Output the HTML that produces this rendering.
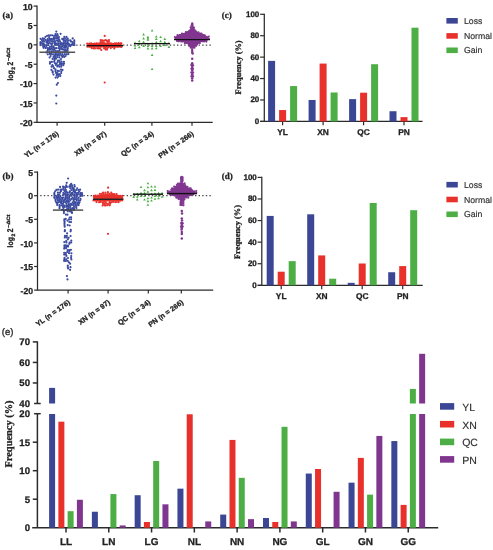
<!DOCTYPE html>
<html><head><meta charset="utf-8"><style>
html,body{margin:0;padding:0;background:#fff;}
body{width:493px;height:550px;overflow:hidden;}
svg{display:block;will-change:transform;text-rendering:geometricPrecision;}
</style></head><body>
<svg width="493" height="550" viewBox="0 0 493 550">
<rect width="493" height="550" fill="#fff"/>
<text x="2.40" y="17.60" font-family="Liberation Serif" font-size="9.0" font-weight="bold" text-anchor="start" fill="#222" stroke="#222" stroke-width="0.28" >(a)</text>
<line x1="37.00" y1="5.50" x2="37.00" y2="122.32" stroke="#2b2b2b" stroke-width="1.25" />
<line x1="36.40" y1="122.32" x2="212.70" y2="122.32" stroke="#2b2b2b" stroke-width="1.25" />
<line x1="33.60" y1="6.10" x2="37.00" y2="6.10" stroke="#2b2b2b" stroke-width="1.2" />
<text x="32.60" y="9.83" font-family="Liberation Sans" font-size="8.7" font-weight="bold" text-anchor="end" fill="#222" stroke="#222" stroke-width="0.28" >10</text>
<line x1="33.60" y1="25.47" x2="37.00" y2="25.47" stroke="#2b2b2b" stroke-width="1.2" />
<text x="32.60" y="29.20" font-family="Liberation Sans" font-size="8.7" font-weight="bold" text-anchor="end" fill="#222" stroke="#222" stroke-width="0.28" >5</text>
<line x1="33.60" y1="44.84" x2="37.00" y2="44.84" stroke="#2b2b2b" stroke-width="1.2" />
<text x="32.60" y="48.57" font-family="Liberation Sans" font-size="8.7" font-weight="bold" text-anchor="end" fill="#222" stroke="#222" stroke-width="0.28" >0</text>
<line x1="33.60" y1="64.21" x2="37.00" y2="64.21" stroke="#2b2b2b" stroke-width="1.2" />
<text x="32.60" y="67.94" font-family="Liberation Sans" font-size="8.7" font-weight="bold" text-anchor="end" fill="#222" stroke="#222" stroke-width="0.28" >-5</text>
<line x1="33.60" y1="83.58" x2="37.00" y2="83.58" stroke="#2b2b2b" stroke-width="1.2" />
<text x="32.60" y="87.31" font-family="Liberation Sans" font-size="8.7" font-weight="bold" text-anchor="end" fill="#222" stroke="#222" stroke-width="0.28" >-10</text>
<line x1="33.60" y1="102.95" x2="37.00" y2="102.95" stroke="#2b2b2b" stroke-width="1.2" />
<text x="32.60" y="106.68" font-family="Liberation Sans" font-size="8.7" font-weight="bold" text-anchor="end" fill="#222" stroke="#222" stroke-width="0.28" >-15</text>
<line x1="33.60" y1="122.32" x2="37.00" y2="122.32" stroke="#2b2b2b" stroke-width="1.2" />
<text x="32.60" y="126.05" font-family="Liberation Sans" font-size="8.7" font-weight="bold" text-anchor="end" fill="#222" stroke="#222" stroke-width="0.28" >-20</text>
<line x1="57.10" y1="122.32" x2="57.10" y2="125.72" stroke="#2b2b2b" stroke-width="1.2" />
<text x="59.30" y="134.92" font-family="Liberation Sans" font-size="7.15" font-weight="bold" text-anchor="end" fill="#222" stroke="#222" stroke-width="0.28" transform="rotate(-35 59.30 134.92)">YL (n = 176)</text>
<line x1="104.70" y1="122.32" x2="104.70" y2="125.72" stroke="#2b2b2b" stroke-width="1.2" />
<text x="106.90" y="134.92" font-family="Liberation Sans" font-size="7.15" font-weight="bold" text-anchor="end" fill="#222" stroke="#222" stroke-width="0.28" transform="rotate(-35 106.90 134.92)">XN (n = 97)</text>
<line x1="151.90" y1="122.32" x2="151.90" y2="125.72" stroke="#2b2b2b" stroke-width="1.2" />
<text x="154.10" y="134.92" font-family="Liberation Sans" font-size="7.15" font-weight="bold" text-anchor="end" fill="#222" stroke="#222" stroke-width="0.28" transform="rotate(-35 154.10 134.92)">QC (n = 34)</text>
<line x1="192.00" y1="122.32" x2="192.00" y2="125.72" stroke="#2b2b2b" stroke-width="1.2" />
<text x="194.20" y="134.92" font-family="Liberation Sans" font-size="7.15" font-weight="bold" text-anchor="end" fill="#222" stroke="#222" stroke-width="0.28" transform="rotate(-35 194.20 134.92)">PN (n = 266)</text>
<text transform="translate(12.80,80.60) rotate(-90) scale(0.86,1)" font-family="Liberation Sans" font-weight="bold" font-size="8.0" fill="#222" stroke="#222" stroke-width="0.32" text-anchor="start">log</text>
<text transform="translate(14.80,69.70) rotate(-90) scale(1.0,1)" font-family="Liberation Sans" font-weight="bold" font-size="5.0" fill="#222" stroke="#222" stroke-width="0.32" text-anchor="start">2</text>
<text transform="translate(12.60,65.40) rotate(-90) scale(0.78,1)" font-family="Liberation Sans" font-weight="bold" font-size="8.4" fill="#222" stroke="#222" stroke-width="0.32" text-anchor="start">2</text>
<text transform="translate(9.90,61.00) rotate(-90) scale(1.17,1)" font-family="Liberation Sans" font-weight="bold" font-size="4.8" fill="#222" stroke="#222" stroke-width="0.32" text-anchor="start">&#8722;&#916;Ct</text>
<line x1="40.2" y1="45.2" x2="212" y2="45.2" stroke="#4a4a4a" stroke-width="1.25" stroke-dasharray="1.4 2.2"/>
<text x="2.40" y="178.90" font-family="Liberation Serif" font-size="9.0" font-weight="bold" text-anchor="start" fill="#222" stroke="#222" stroke-width="0.28" >(b)</text>
<line x1="37.50" y1="171.50" x2="37.50" y2="290.10" stroke="#2b2b2b" stroke-width="1.25" />
<line x1="36.90" y1="290.10" x2="213.20" y2="290.10" stroke="#2b2b2b" stroke-width="1.25" />
<line x1="34.10" y1="172.10" x2="37.50" y2="172.10" stroke="#2b2b2b" stroke-width="1.2" />
<text x="33.10" y="175.83" font-family="Liberation Sans" font-size="8.7" font-weight="bold" text-anchor="end" fill="#222" stroke="#222" stroke-width="0.28" >5</text>
<line x1="34.10" y1="195.70" x2="37.50" y2="195.70" stroke="#2b2b2b" stroke-width="1.2" />
<text x="33.10" y="199.43" font-family="Liberation Sans" font-size="8.7" font-weight="bold" text-anchor="end" fill="#222" stroke="#222" stroke-width="0.28" >0</text>
<line x1="34.10" y1="219.30" x2="37.50" y2="219.30" stroke="#2b2b2b" stroke-width="1.2" />
<text x="33.10" y="223.03" font-family="Liberation Sans" font-size="8.7" font-weight="bold" text-anchor="end" fill="#222" stroke="#222" stroke-width="0.28" >-5</text>
<line x1="34.10" y1="242.90" x2="37.50" y2="242.90" stroke="#2b2b2b" stroke-width="1.2" />
<text x="33.10" y="246.63" font-family="Liberation Sans" font-size="8.7" font-weight="bold" text-anchor="end" fill="#222" stroke="#222" stroke-width="0.28" >-10</text>
<line x1="34.10" y1="266.50" x2="37.50" y2="266.50" stroke="#2b2b2b" stroke-width="1.2" />
<text x="33.10" y="270.23" font-family="Liberation Sans" font-size="8.7" font-weight="bold" text-anchor="end" fill="#222" stroke="#222" stroke-width="0.28" >-15</text>
<line x1="34.10" y1="290.10" x2="37.50" y2="290.10" stroke="#2b2b2b" stroke-width="1.2" />
<text x="33.10" y="293.83" font-family="Liberation Sans" font-size="8.7" font-weight="bold" text-anchor="end" fill="#222" stroke="#222" stroke-width="0.28" >-20</text>
<line x1="68.10" y1="290.10" x2="68.10" y2="293.50" stroke="#2b2b2b" stroke-width="1.2" />
<text x="70.70" y="303.40" font-family="Liberation Sans" font-size="7.15" font-weight="bold" text-anchor="end" fill="#222" stroke="#222" stroke-width="0.28" transform="rotate(-35.5 70.70 303.40)">YL (n = 176)</text>
<line x1="108.10" y1="290.10" x2="108.10" y2="293.50" stroke="#2b2b2b" stroke-width="1.2" />
<text x="110.70" y="303.40" font-family="Liberation Sans" font-size="7.15" font-weight="bold" text-anchor="end" fill="#222" stroke="#222" stroke-width="0.28" transform="rotate(-35.5 110.70 303.40)">XN (n = 97)</text>
<line x1="148.30" y1="290.10" x2="148.30" y2="293.50" stroke="#2b2b2b" stroke-width="1.2" />
<text x="150.90" y="303.40" font-family="Liberation Sans" font-size="7.15" font-weight="bold" text-anchor="end" fill="#222" stroke="#222" stroke-width="0.28" transform="rotate(-35.5 150.90 303.40)">QC (n = 34)</text>
<line x1="181.30" y1="290.10" x2="181.30" y2="293.50" stroke="#2b2b2b" stroke-width="1.2" />
<text x="183.90" y="303.40" font-family="Liberation Sans" font-size="7.15" font-weight="bold" text-anchor="end" fill="#222" stroke="#222" stroke-width="0.28" transform="rotate(-35.5 183.90 303.40)">PN (n = 266)</text>
<text transform="translate(12.80,247.40) rotate(-90) scale(0.86,1)" font-family="Liberation Sans" font-weight="bold" font-size="8.0" fill="#222" stroke="#222" stroke-width="0.32" text-anchor="start">log</text>
<text transform="translate(14.80,236.50) rotate(-90) scale(1.0,1)" font-family="Liberation Sans" font-weight="bold" font-size="5.0" fill="#222" stroke="#222" stroke-width="0.32" text-anchor="start">2</text>
<text transform="translate(12.60,232.20) rotate(-90) scale(0.78,1)" font-family="Liberation Sans" font-weight="bold" font-size="8.4" fill="#222" stroke="#222" stroke-width="0.32" text-anchor="start">2</text>
<text transform="translate(9.90,227.80) rotate(-90) scale(1.17,1)" font-family="Liberation Sans" font-weight="bold" font-size="4.8" fill="#222" stroke="#222" stroke-width="0.32" text-anchor="start">&#8722;&#916;Ct</text>
<line x1="40.2" y1="195.6" x2="212" y2="195.6" stroke="#4a4a4a" stroke-width="1.25" stroke-dasharray="1.4 2.2"/>
<text x="221.80" y="17.70" font-family="Liberation Serif" font-size="9.0" font-weight="bold" text-anchor="start" fill="#222" stroke="#222" stroke-width="0.28" >(c)</text>
<line x1="264.30" y1="13.70" x2="264.30" y2="121.40" stroke="#2b2b2b" stroke-width="1.25" />
<line x1="260.10" y1="121.40" x2="422.60" y2="121.40" stroke="#2b2b2b" stroke-width="1.25" />
<line x1="260.10" y1="121.40" x2="264.30" y2="121.40" stroke="#2b2b2b" stroke-width="1.2" />
<text x="259.30" y="123.78" font-family="Liberation Sans" font-size="8.0" font-weight="bold" text-anchor="end" fill="#222" stroke="#222" stroke-width="0.28" >0</text>
<line x1="260.10" y1="99.98" x2="264.30" y2="99.98" stroke="#2b2b2b" stroke-width="1.2" />
<text x="259.30" y="102.36" font-family="Liberation Sans" font-size="8.0" font-weight="bold" text-anchor="end" fill="#222" stroke="#222" stroke-width="0.28" >20</text>
<line x1="260.10" y1="78.56" x2="264.30" y2="78.56" stroke="#2b2b2b" stroke-width="1.2" />
<text x="259.30" y="80.94" font-family="Liberation Sans" font-size="8.0" font-weight="bold" text-anchor="end" fill="#222" stroke="#222" stroke-width="0.28" >40</text>
<line x1="260.10" y1="57.14" x2="264.30" y2="57.14" stroke="#2b2b2b" stroke-width="1.2" />
<text x="259.30" y="59.52" font-family="Liberation Sans" font-size="8.0" font-weight="bold" text-anchor="end" fill="#222" stroke="#222" stroke-width="0.28" >60</text>
<line x1="260.10" y1="35.72" x2="264.30" y2="35.72" stroke="#2b2b2b" stroke-width="1.2" />
<text x="259.30" y="38.10" font-family="Liberation Sans" font-size="8.0" font-weight="bold" text-anchor="end" fill="#222" stroke="#222" stroke-width="0.28" >80</text>
<line x1="260.10" y1="14.30" x2="264.30" y2="14.30" stroke="#2b2b2b" stroke-width="1.2" />
<text x="259.30" y="16.68" font-family="Liberation Sans" font-size="8.0" font-weight="bold" text-anchor="end" fill="#222" stroke="#222" stroke-width="0.28" >100</text>
<line x1="282.60" y1="121.40" x2="282.60" y2="125.30" stroke="#2b2b2b" stroke-width="1.2" />
<text x="282.60" y="134.60" font-family="Liberation Sans" font-size="8.4" font-weight="bold" text-anchor="middle" fill="#222" stroke="#222" stroke-width="0.28" >YL</text>
<rect x="268.10" y="60.89" width="7.00" height="60.51" fill="#3b4794"/>
<rect x="279.10" y="110.05" width="7.00" height="11.35" fill="#e8312b"/>
<rect x="290.10" y="86.06" width="7.00" height="35.34" fill="#4cae45"/>
<line x1="323.10" y1="121.40" x2="323.10" y2="125.30" stroke="#2b2b2b" stroke-width="1.2" />
<text x="323.10" y="134.60" font-family="Liberation Sans" font-size="8.4" font-weight="bold" text-anchor="middle" fill="#222" stroke="#222" stroke-width="0.28" >XN</text>
<rect x="308.60" y="99.98" width="7.00" height="21.42" fill="#3b4794"/>
<rect x="319.60" y="63.57" width="7.00" height="57.83" fill="#e8312b"/>
<rect x="330.60" y="92.48" width="7.00" height="28.92" fill="#4cae45"/>
<line x1="363.60" y1="121.40" x2="363.60" y2="125.30" stroke="#2b2b2b" stroke-width="1.2" />
<text x="363.60" y="134.60" font-family="Liberation Sans" font-size="8.4" font-weight="bold" text-anchor="middle" fill="#222" stroke="#222" stroke-width="0.28" >QC</text>
<rect x="349.10" y="99.12" width="7.00" height="22.28" fill="#3b4794"/>
<rect x="360.10" y="92.70" width="7.00" height="28.70" fill="#e8312b"/>
<rect x="371.10" y="64.21" width="7.00" height="57.19" fill="#4cae45"/>
<line x1="404.00" y1="121.40" x2="404.00" y2="125.30" stroke="#2b2b2b" stroke-width="1.2" />
<text x="404.00" y="134.60" font-family="Liberation Sans" font-size="8.4" font-weight="bold" text-anchor="middle" fill="#222" stroke="#222" stroke-width="0.28" >PN</text>
<rect x="389.50" y="111.23" width="7.00" height="10.17" fill="#3b4794"/>
<rect x="400.50" y="117.12" width="7.00" height="4.28" fill="#e8312b"/>
<rect x="411.50" y="27.69" width="7.00" height="93.71" fill="#4cae45"/>
<rect x="446.40" y="18.00" width="11.40" height="5.60" fill="#3b4794"/>
<text x="464.00" y="23.93" font-family="Liberation Sans" font-size="8.7" font-weight="normal" text-anchor="start" fill="#2e2e2e" stroke="#2e2e2e" stroke-width="0.15" >Loss</text>
<rect x="446.40" y="33.10" width="11.40" height="5.60" fill="#e8312b"/>
<text x="464.00" y="39.03" font-family="Liberation Sans" font-size="8.7" font-weight="normal" text-anchor="start" fill="#2e2e2e" stroke="#2e2e2e" stroke-width="0.15" >Normal</text>
<rect x="446.40" y="47.50" width="11.40" height="5.60" fill="#4cae45"/>
<text x="464.00" y="53.43" font-family="Liberation Sans" font-size="8.7" font-weight="normal" text-anchor="start" fill="#2e2e2e" stroke="#2e2e2e" stroke-width="0.15" >Gain</text>
<text transform="translate(241.20,67.40) rotate(-90)" font-family="Liberation Serif" font-weight="bold" font-size="8.4" fill="#222" stroke="#222" stroke-width="0.3" text-anchor="middle">Frequency (%)</text>
<text x="221.80" y="179.30" font-family="Liberation Serif" font-size="9.0" font-weight="bold" text-anchor="start" fill="#222" stroke="#222" stroke-width="0.28" >(d)</text>
<line x1="261.80" y1="176.80" x2="261.80" y2="285.30" stroke="#2b2b2b" stroke-width="1.25" />
<line x1="257.60" y1="285.30" x2="422.70" y2="285.30" stroke="#2b2b2b" stroke-width="1.25" />
<line x1="257.60" y1="285.30" x2="261.80" y2="285.30" stroke="#2b2b2b" stroke-width="1.2" />
<text x="256.80" y="287.68" font-family="Liberation Sans" font-size="8.0" font-weight="bold" text-anchor="end" fill="#222" stroke="#222" stroke-width="0.28" >0</text>
<line x1="257.60" y1="263.72" x2="261.80" y2="263.72" stroke="#2b2b2b" stroke-width="1.2" />
<text x="256.80" y="266.10" font-family="Liberation Sans" font-size="8.0" font-weight="bold" text-anchor="end" fill="#222" stroke="#222" stroke-width="0.28" >20</text>
<line x1="257.60" y1="242.14" x2="261.80" y2="242.14" stroke="#2b2b2b" stroke-width="1.2" />
<text x="256.80" y="244.52" font-family="Liberation Sans" font-size="8.0" font-weight="bold" text-anchor="end" fill="#222" stroke="#222" stroke-width="0.28" >40</text>
<line x1="257.60" y1="220.56" x2="261.80" y2="220.56" stroke="#2b2b2b" stroke-width="1.2" />
<text x="256.80" y="222.94" font-family="Liberation Sans" font-size="8.0" font-weight="bold" text-anchor="end" fill="#222" stroke="#222" stroke-width="0.28" >60</text>
<line x1="257.60" y1="198.98" x2="261.80" y2="198.98" stroke="#2b2b2b" stroke-width="1.2" />
<text x="256.80" y="201.36" font-family="Liberation Sans" font-size="8.0" font-weight="bold" text-anchor="end" fill="#222" stroke="#222" stroke-width="0.28" >80</text>
<line x1="257.60" y1="177.40" x2="261.80" y2="177.40" stroke="#2b2b2b" stroke-width="1.2" />
<text x="256.80" y="179.78" font-family="Liberation Sans" font-size="8.0" font-weight="bold" text-anchor="end" fill="#222" stroke="#222" stroke-width="0.28" >100</text>
<line x1="281.20" y1="285.30" x2="281.20" y2="289.20" stroke="#2b2b2b" stroke-width="1.2" />
<text x="281.20" y="298.50" font-family="Liberation Sans" font-size="8.4" font-weight="bold" text-anchor="middle" fill="#222" stroke="#222" stroke-width="0.28" >YL</text>
<rect x="266.70" y="215.92" width="7.00" height="69.38" fill="#3b4794"/>
<rect x="277.70" y="271.70" width="7.00" height="13.60" fill="#e8312b"/>
<rect x="288.70" y="261.13" width="7.00" height="24.17" fill="#4cae45"/>
<line x1="321.70" y1="285.30" x2="321.70" y2="289.20" stroke="#2b2b2b" stroke-width="1.2" />
<text x="321.70" y="298.50" font-family="Liberation Sans" font-size="8.4" font-weight="bold" text-anchor="middle" fill="#222" stroke="#222" stroke-width="0.28" >XN</text>
<rect x="307.20" y="214.30" width="7.00" height="71.00" fill="#3b4794"/>
<rect x="318.20" y="255.41" width="7.00" height="29.89" fill="#e8312b"/>
<rect x="329.20" y="278.72" width="7.00" height="6.58" fill="#4cae45"/>
<line x1="362.20" y1="285.30" x2="362.20" y2="289.20" stroke="#2b2b2b" stroke-width="1.2" />
<text x="362.20" y="298.50" font-family="Liberation Sans" font-size="8.4" font-weight="bold" text-anchor="middle" fill="#222" stroke="#222" stroke-width="0.28" >QC</text>
<rect x="347.70" y="282.82" width="7.00" height="2.48" fill="#3b4794"/>
<rect x="358.70" y="263.50" width="7.00" height="21.80" fill="#e8312b"/>
<rect x="369.70" y="202.97" width="7.00" height="82.33" fill="#4cae45"/>
<line x1="402.70" y1="285.30" x2="402.70" y2="289.20" stroke="#2b2b2b" stroke-width="1.2" />
<text x="402.70" y="298.50" font-family="Liberation Sans" font-size="8.4" font-weight="bold" text-anchor="middle" fill="#222" stroke="#222" stroke-width="0.28" >PN</text>
<rect x="388.20" y="272.24" width="7.00" height="13.06" fill="#3b4794"/>
<rect x="399.20" y="266.09" width="7.00" height="19.21" fill="#e8312b"/>
<rect x="410.20" y="210.20" width="7.00" height="75.10" fill="#4cae45"/>
<rect x="446.40" y="181.90" width="11.40" height="5.60" fill="#3b4794"/>
<text x="464.00" y="187.83" font-family="Liberation Sans" font-size="8.7" font-weight="normal" text-anchor="start" fill="#2e2e2e" stroke="#2e2e2e" stroke-width="0.15" >Loss</text>
<rect x="446.40" y="196.70" width="11.40" height="5.60" fill="#e8312b"/>
<text x="464.00" y="202.63" font-family="Liberation Sans" font-size="8.7" font-weight="normal" text-anchor="start" fill="#2e2e2e" stroke="#2e2e2e" stroke-width="0.15" >Normal</text>
<rect x="446.40" y="211.50" width="11.40" height="5.60" fill="#4cae45"/>
<text x="464.00" y="217.43" font-family="Liberation Sans" font-size="8.7" font-weight="normal" text-anchor="start" fill="#2e2e2e" stroke="#2e2e2e" stroke-width="0.15" >Gain</text>
<text transform="translate(239.60,232.00) rotate(-90)" font-family="Liberation Serif" font-weight="bold" font-size="8.4" fill="#222" stroke="#222" stroke-width="0.3" text-anchor="middle">Frequency (%)</text>
<text x="1.80" y="334.50" font-family="Liberation Sans" font-size="9.6" font-weight="normal" text-anchor="start" fill="#2a2a2a" stroke="#2a2a2a" stroke-width="0.3" >(e)</text>
<line x1="37.40" y1="341.30" x2="37.40" y2="403.50" stroke="#2b2b2b" stroke-width="1.5" />
<line x1="34.10" y1="403.50" x2="40.70" y2="403.50" stroke="#2b2b2b" stroke-width="1.5" />
<line x1="37.40" y1="413.70" x2="37.40" y2="527.70" stroke="#2b2b2b" stroke-width="1.5" />
<line x1="34.10" y1="413.70" x2="40.70" y2="413.70" stroke="#2b2b2b" stroke-width="1.5" />
<line x1="32.20" y1="527.70" x2="438.20" y2="527.70" stroke="#2b2b2b" stroke-width="1.5" />
<line x1="32.80" y1="341.90" x2="37.40" y2="341.90" stroke="#2b2b2b" stroke-width="1.5" />
<line x1="32.80" y1="362.43" x2="37.40" y2="362.43" stroke="#2b2b2b" stroke-width="1.5" />
<line x1="32.80" y1="382.97" x2="37.40" y2="382.97" stroke="#2b2b2b" stroke-width="1.5" />
<text x="30.00" y="345.36" font-family="Liberation Sans" font-size="9.6" font-weight="bold" text-anchor="end" fill="#222" stroke="#222" stroke-width="0.28" >70</text>
<text x="30.00" y="365.89" font-family="Liberation Sans" font-size="9.6" font-weight="bold" text-anchor="end" fill="#222" stroke="#222" stroke-width="0.28" >60</text>
<text x="30.00" y="386.42" font-family="Liberation Sans" font-size="9.6" font-weight="bold" text-anchor="end" fill="#222" stroke="#222" stroke-width="0.28" >50</text>
<text x="30.00" y="406.96" font-family="Liberation Sans" font-size="9.6" font-weight="bold" text-anchor="end" fill="#222" stroke="#222" stroke-width="0.28" >40</text>
<text x="30.00" y="417.16" font-family="Liberation Sans" font-size="9.6" font-weight="bold" text-anchor="end" fill="#222" stroke="#222" stroke-width="0.28" >20</text>
<line x1="32.80" y1="442.20" x2="37.40" y2="442.20" stroke="#2b2b2b" stroke-width="1.5" />
<text x="30.00" y="445.66" font-family="Liberation Sans" font-size="9.6" font-weight="bold" text-anchor="end" fill="#222" stroke="#222" stroke-width="0.28" >15</text>
<line x1="32.80" y1="470.70" x2="37.40" y2="470.70" stroke="#2b2b2b" stroke-width="1.5" />
<text x="30.00" y="474.16" font-family="Liberation Sans" font-size="9.6" font-weight="bold" text-anchor="end" fill="#222" stroke="#222" stroke-width="0.28" >10</text>
<line x1="32.80" y1="499.20" x2="37.40" y2="499.20" stroke="#2b2b2b" stroke-width="1.5" />
<text x="30.00" y="502.66" font-family="Liberation Sans" font-size="9.6" font-weight="bold" text-anchor="end" fill="#222" stroke="#222" stroke-width="0.28" >5</text>
<text x="30.00" y="531.16" font-family="Liberation Sans" font-size="9.6" font-weight="bold" text-anchor="end" fill="#222" stroke="#222" stroke-width="0.28" >0</text>
<text transform="translate(11.70,434.00) rotate(-90)" font-family="Liberation Serif" font-weight="bold" font-size="10.4" fill="#222" stroke="#222" stroke-width="0.3" text-anchor="middle">Frequency (%)</text>
<line x1="66.00" y1="527.70" x2="66.00" y2="532.50" stroke="#2b2b2b" stroke-width="1.5" />
<text x="66.00" y="544.80" font-family="Liberation Sans" font-size="10" font-weight="bold" text-anchor="middle" fill="#222" stroke="#222" stroke-width="0.28" >LL</text>
<rect x="49.10" y="414.00" width="6.00" height="113.70" fill="#3b4794"/>
<rect x="49.10" y="387.89" width="6.00" height="15.61" fill="#3b4794"/>
<rect x="58.37" y="421.68" width="6.00" height="106.02" fill="#e8312b"/>
<rect x="67.63" y="511.17" width="6.00" height="16.53" fill="#4cae45"/>
<rect x="76.90" y="499.77" width="6.00" height="27.93" fill="#80368f"/>
<line x1="108.78" y1="527.70" x2="108.78" y2="532.50" stroke="#2b2b2b" stroke-width="1.5" />
<text x="108.78" y="544.80" font-family="Liberation Sans" font-size="10" font-weight="bold" text-anchor="middle" fill="#222" stroke="#222" stroke-width="0.28" >LN</text>
<rect x="91.88" y="511.74" width="6.00" height="15.96" fill="#3b4794"/>
<rect x="110.41" y="494.07" width="6.00" height="33.63" fill="#4cae45"/>
<rect x="119.68" y="525.42" width="6.00" height="2.28" fill="#80368f"/>
<line x1="151.56" y1="527.70" x2="151.56" y2="532.50" stroke="#2b2b2b" stroke-width="1.5" />
<text x="151.56" y="544.80" font-family="Liberation Sans" font-size="10" font-weight="bold" text-anchor="middle" fill="#222" stroke="#222" stroke-width="0.28" >LG</text>
<rect x="134.66" y="495.21" width="6.00" height="32.49" fill="#3b4794"/>
<rect x="143.93" y="522.00" width="6.00" height="5.70" fill="#e8312b"/>
<rect x="153.19" y="461.01" width="6.00" height="66.69" fill="#4cae45"/>
<rect x="162.46" y="504.33" width="6.00" height="23.37" fill="#80368f"/>
<line x1="194.34" y1="527.70" x2="194.34" y2="532.50" stroke="#2b2b2b" stroke-width="1.5" />
<text x="194.34" y="544.80" font-family="Liberation Sans" font-size="10" font-weight="bold" text-anchor="middle" fill="#222" stroke="#222" stroke-width="0.28" >NL</text>
<rect x="177.44" y="488.66" width="6.00" height="39.05" fill="#3b4794"/>
<rect x="186.71" y="414.27" width="6.00" height="113.43" fill="#e8312b"/>
<rect x="205.24" y="521.43" width="6.00" height="6.27" fill="#80368f"/>
<line x1="237.12" y1="527.70" x2="237.12" y2="532.50" stroke="#2b2b2b" stroke-width="1.5" />
<text x="237.12" y="544.80" font-family="Liberation Sans" font-size="10" font-weight="bold" text-anchor="middle" fill="#222" stroke="#222" stroke-width="0.28" >NN</text>
<rect x="220.22" y="514.59" width="6.00" height="13.11" fill="#3b4794"/>
<rect x="229.49" y="439.92" width="6.00" height="87.78" fill="#e8312b"/>
<rect x="238.75" y="477.83" width="6.00" height="49.88" fill="#4cae45"/>
<rect x="248.02" y="519.15" width="6.00" height="8.55" fill="#80368f"/>
<line x1="279.90" y1="527.70" x2="279.90" y2="532.50" stroke="#2b2b2b" stroke-width="1.5" />
<text x="279.90" y="544.80" font-family="Liberation Sans" font-size="10" font-weight="bold" text-anchor="middle" fill="#222" stroke="#222" stroke-width="0.28" >NG</text>
<rect x="263.00" y="518.01" width="6.00" height="9.69" fill="#3b4794"/>
<rect x="272.27" y="522.00" width="6.00" height="5.70" fill="#e8312b"/>
<rect x="281.53" y="426.81" width="6.00" height="100.89" fill="#4cae45"/>
<rect x="290.80" y="521.43" width="6.00" height="6.27" fill="#80368f"/>
<line x1="322.68" y1="527.70" x2="322.68" y2="532.50" stroke="#2b2b2b" stroke-width="1.5" />
<text x="322.68" y="544.80" font-family="Liberation Sans" font-size="10" font-weight="bold" text-anchor="middle" fill="#222" stroke="#222" stroke-width="0.28" >GL</text>
<rect x="305.78" y="473.55" width="6.00" height="54.15" fill="#3b4794"/>
<rect x="315.05" y="468.99" width="6.00" height="58.71" fill="#e8312b"/>
<rect x="333.58" y="491.79" width="6.00" height="35.91" fill="#80368f"/>
<line x1="365.46" y1="527.70" x2="365.46" y2="532.50" stroke="#2b2b2b" stroke-width="1.5" />
<text x="365.46" y="544.80" font-family="Liberation Sans" font-size="10" font-weight="bold" text-anchor="middle" fill="#222" stroke="#222" stroke-width="0.28" >GN</text>
<rect x="348.56" y="482.67" width="6.00" height="45.03" fill="#3b4794"/>
<rect x="357.83" y="457.88" width="6.00" height="69.83" fill="#e8312b"/>
<rect x="367.09" y="494.64" width="6.00" height="33.06" fill="#4cae45"/>
<rect x="376.36" y="435.93" width="6.00" height="91.77" fill="#80368f"/>
<line x1="408.24" y1="527.70" x2="408.24" y2="532.50" stroke="#2b2b2b" stroke-width="1.5" />
<text x="408.24" y="544.80" font-family="Liberation Sans" font-size="10" font-weight="bold" text-anchor="middle" fill="#222" stroke="#222" stroke-width="0.28" >GG</text>
<rect x="391.34" y="441.06" width="6.00" height="86.64" fill="#3b4794"/>
<rect x="400.61" y="504.90" width="6.00" height="22.80" fill="#e8312b"/>
<rect x="409.87" y="414.00" width="6.00" height="113.70" fill="#4cae45"/>
<rect x="409.87" y="388.92" width="6.00" height="14.58" fill="#4cae45"/>
<rect x="419.14" y="414.00" width="6.00" height="113.70" fill="#80368f"/>
<rect x="419.14" y="353.81" width="6.00" height="49.69" fill="#80368f"/>
<rect x="440.00" y="403.10" width="14.20" height="6.60" fill="#3b4794"/>
<text x="462.20" y="410.88" font-family="Liberation Sans" font-size="10.5" font-weight="normal" text-anchor="start" fill="#2e2e2e" stroke="#2e2e2e" stroke-width="0.15" >YL</text>
<rect x="440.00" y="420.90" width="14.20" height="6.60" fill="#e8312b"/>
<text x="462.20" y="428.68" font-family="Liberation Sans" font-size="10.5" font-weight="normal" text-anchor="start" fill="#2e2e2e" stroke="#2e2e2e" stroke-width="0.15" >XN</text>
<rect x="440.00" y="438.60" width="14.20" height="6.60" fill="#4cae45"/>
<text x="462.20" y="446.38" font-family="Liberation Sans" font-size="10.5" font-weight="normal" text-anchor="start" fill="#2e2e2e" stroke="#2e2e2e" stroke-width="0.15" >QC</text>
<rect x="440.00" y="456.10" width="14.20" height="6.60" fill="#80368f"/>
<text x="462.20" y="463.88" font-family="Liberation Sans" font-size="10.5" font-weight="normal" text-anchor="start" fill="#2e2e2e" stroke="#2e2e2e" stroke-width="0.15" >PN</text>
<g fill="#3a4aa0"><circle cx="55.5" cy="34.1" r="1.1"/><circle cx="57.3" cy="34.1" r="1.1"/><circle cx="60.6" cy="33.8" r="1.1"/><circle cx="47.1" cy="35.8" r="1.1"/><circle cx="48.8" cy="35.3" r="1.1"/><circle cx="50.6" cy="35.3" r="1.1"/><circle cx="52.2" cy="35.3" r="1.1"/><circle cx="54.1" cy="35.8" r="1.1"/><circle cx="56.0" cy="35.5" r="1.1"/><circle cx="57.7" cy="35.4" r="1.1"/><circle cx="45.5" cy="36.8" r="1.1"/><circle cx="49.1" cy="37.0" r="1.1"/><circle cx="53.9" cy="37.3" r="1.1"/><circle cx="56.1" cy="37.0" r="1.1"/><circle cx="57.6" cy="37.3" r="1.1"/><circle cx="59.0" cy="37.0" r="1.1"/><circle cx="64.3" cy="36.9" r="1.1"/><circle cx="66.5" cy="36.9" r="1.1"/><circle cx="40.6" cy="38.8" r="1.1"/><circle cx="42.7" cy="38.4" r="1.1"/><circle cx="44.2" cy="38.5" r="1.1"/><circle cx="47.8" cy="38.9" r="1.1"/><circle cx="49.6" cy="38.9" r="1.1"/><circle cx="51.2" cy="38.9" r="1.1"/><circle cx="53.1" cy="38.8" r="1.1"/><circle cx="54.9" cy="38.4" r="1.1"/><circle cx="56.8" cy="38.5" r="1.1"/><circle cx="58.5" cy="38.6" r="1.1"/><circle cx="62.2" cy="38.9" r="1.1"/><circle cx="63.7" cy="38.9" r="1.1"/><circle cx="65.5" cy="38.5" r="1.1"/><circle cx="67.7" cy="38.5" r="1.1"/><circle cx="72.7" cy="38.4" r="1.1"/><circle cx="41.9" cy="40.1" r="1.1"/><circle cx="43.6" cy="40.1" r="1.1"/><circle cx="45.5" cy="39.9" r="1.1"/><circle cx="47.2" cy="40.4" r="1.1"/><circle cx="48.8" cy="40.5" r="1.1"/><circle cx="50.4" cy="40.1" r="1.1"/><circle cx="52.2" cy="40.0" r="1.1"/><circle cx="54.3" cy="40.0" r="1.1"/><circle cx="56.3" cy="40.5" r="1.1"/><circle cx="57.9" cy="40.3" r="1.1"/><circle cx="59.3" cy="39.9" r="1.1"/><circle cx="63.4" cy="39.9" r="1.1"/><circle cx="64.9" cy="40.3" r="1.1"/><circle cx="67.0" cy="39.9" r="1.1"/><circle cx="68.6" cy="40.4" r="1.1"/><circle cx="70.4" cy="40.4" r="1.1"/><circle cx="74.3" cy="40.4" r="1.1"/><circle cx="40.6" cy="42.0" r="1.1"/><circle cx="42.6" cy="41.7" r="1.1"/><circle cx="44.3" cy="41.5" r="1.1"/><circle cx="46.3" cy="42.0" r="1.1"/><circle cx="47.7" cy="41.9" r="1.1"/><circle cx="49.6" cy="42.0" r="1.1"/><circle cx="51.5" cy="41.5" r="1.1"/><circle cx="53.1" cy="41.6" r="1.1"/><circle cx="54.9" cy="41.8" r="1.1"/><circle cx="58.2" cy="41.6" r="1.1"/><circle cx="60.1" cy="41.6" r="1.1"/><circle cx="63.8" cy="42.0" r="1.1"/><circle cx="65.7" cy="41.6" r="1.1"/><circle cx="67.6" cy="42.0" r="1.1"/><circle cx="71.0" cy="41.6" r="1.1"/><circle cx="72.7" cy="42.0" r="1.1"/><circle cx="74.3" cy="42.0" r="1.1"/><circle cx="40.4" cy="43.2" r="1.1"/><circle cx="41.9" cy="43.4" r="1.1"/><circle cx="43.7" cy="43.5" r="1.1"/><circle cx="47.1" cy="43.0" r="1.1"/><circle cx="48.8" cy="43.4" r="1.1"/><circle cx="50.8" cy="43.5" r="1.1"/><circle cx="52.5" cy="43.3" r="1.1"/><circle cx="54.7" cy="43.1" r="1.1"/><circle cx="56.0" cy="43.4" r="1.1"/><circle cx="58.1" cy="43.4" r="1.1"/><circle cx="60.1" cy="43.4" r="1.1"/><circle cx="61.6" cy="43.1" r="1.1"/><circle cx="63.3" cy="43.4" r="1.1"/><circle cx="65.0" cy="43.2" r="1.1"/><circle cx="66.9" cy="43.4" r="1.1"/><circle cx="68.6" cy="43.5" r="1.1"/><circle cx="72.5" cy="43.4" r="1.1"/><circle cx="74.2" cy="43.4" r="1.1"/><circle cx="40.4" cy="45.1" r="1.1"/><circle cx="42.8" cy="44.8" r="1.1"/><circle cx="44.1" cy="45.0" r="1.1"/><circle cx="46.1" cy="45.0" r="1.1"/><circle cx="48.1" cy="45.1" r="1.1"/><circle cx="51.6" cy="44.7" r="1.1"/><circle cx="54.9" cy="44.6" r="1.1"/><circle cx="56.8" cy="45.0" r="1.1"/><circle cx="58.2" cy="45.0" r="1.1"/><circle cx="60.5" cy="44.7" r="1.1"/><circle cx="62.2" cy="44.6" r="1.1"/><circle cx="63.9" cy="45.0" r="1.1"/><circle cx="65.7" cy="45.1" r="1.1"/><circle cx="67.7" cy="44.6" r="1.1"/><circle cx="69.2" cy="44.7" r="1.1"/><circle cx="71.1" cy="44.9" r="1.1"/><circle cx="72.8" cy="44.7" r="1.1"/><circle cx="74.4" cy="45.1" r="1.1"/><circle cx="43.2" cy="46.4" r="1.1"/><circle cx="44.4" cy="46.4" r="1.1"/><circle cx="46.4" cy="46.1" r="1.1"/><circle cx="49.9" cy="46.6" r="1.1"/><circle cx="51.8" cy="46.5" r="1.1"/><circle cx="53.6" cy="46.3" r="1.1"/><circle cx="59.1" cy="46.2" r="1.1"/><circle cx="61.1" cy="46.6" r="1.1"/><circle cx="62.6" cy="46.2" r="1.1"/><circle cx="64.8" cy="46.2" r="1.1"/><circle cx="66.0" cy="46.2" r="1.1"/><circle cx="68.3" cy="46.3" r="1.1"/><circle cx="70.3" cy="46.2" r="1.1"/><circle cx="43.6" cy="47.8" r="1.1"/><circle cx="45.6" cy="47.9" r="1.1"/><circle cx="47.4" cy="48.0" r="1.1"/><circle cx="49.1" cy="48.0" r="1.1"/><circle cx="51.1" cy="48.2" r="1.1"/><circle cx="53.1" cy="47.8" r="1.1"/><circle cx="54.9" cy="48.2" r="1.1"/><circle cx="56.5" cy="48.2" r="1.1"/><circle cx="58.7" cy="48.2" r="1.1"/><circle cx="60.1" cy="48.1" r="1.1"/><circle cx="61.8" cy="48.1" r="1.1"/><circle cx="64.1" cy="47.7" r="1.1"/><circle cx="65.8" cy="47.7" r="1.1"/><circle cx="67.7" cy="48.2" r="1.1"/><circle cx="48.0" cy="49.5" r="1.1"/><circle cx="49.1" cy="49.2" r="1.1"/><circle cx="50.8" cy="49.5" r="1.1"/><circle cx="52.9" cy="49.3" r="1.1"/><circle cx="54.5" cy="49.7" r="1.1"/><circle cx="59.8" cy="49.8" r="1.1"/><circle cx="62.1" cy="49.4" r="1.1"/><circle cx="63.7" cy="49.5" r="1.1"/><circle cx="65.2" cy="49.6" r="1.1"/><circle cx="67.4" cy="49.5" r="1.1"/><circle cx="47.6" cy="50.8" r="1.1"/><circle cx="49.5" cy="51.3" r="1.1"/><circle cx="51.7" cy="51.3" r="1.1"/><circle cx="53.3" cy="51.1" r="1.1"/><circle cx="55.5" cy="51.2" r="1.1"/><circle cx="57.2" cy="51.2" r="1.1"/><circle cx="59.0" cy="51.0" r="1.1"/><circle cx="64.4" cy="51.2" r="1.1"/><circle cx="66.1" cy="50.8" r="1.1"/><circle cx="67.6" cy="50.8" r="1.1"/><circle cx="46.3" cy="52.4" r="1.1"/><circle cx="49.7" cy="52.7" r="1.1"/><circle cx="51.6" cy="52.5" r="1.1"/><circle cx="55.3" cy="52.8" r="1.1"/><circle cx="58.9" cy="52.7" r="1.1"/><circle cx="60.6" cy="52.3" r="1.1"/><circle cx="62.4" cy="52.4" r="1.1"/><circle cx="64.6" cy="52.6" r="1.1"/><circle cx="66.4" cy="52.6" r="1.1"/><circle cx="47.8" cy="54.3" r="1.1"/><circle cx="49.9" cy="53.9" r="1.1"/><circle cx="51.3" cy="54.1" r="1.1"/><circle cx="53.1" cy="54.4" r="1.1"/><circle cx="55.3" cy="54.2" r="1.1"/><circle cx="57.0" cy="54.2" r="1.1"/><circle cx="58.8" cy="54.3" r="1.1"/><circle cx="60.6" cy="54.0" r="1.1"/><circle cx="62.5" cy="54.3" r="1.1"/><circle cx="64.8" cy="54.3" r="1.1"/><circle cx="66.7" cy="54.4" r="1.1"/><circle cx="68.4" cy="54.1" r="1.1"/><circle cx="50.6" cy="56.0" r="1.1"/><circle cx="54.5" cy="55.9" r="1.1"/><circle cx="55.8" cy="55.8" r="1.1"/><circle cx="57.7" cy="55.4" r="1.1"/><circle cx="59.5" cy="55.7" r="1.1"/><circle cx="61.5" cy="55.6" r="1.1"/><circle cx="63.3" cy="55.9" r="1.1"/><circle cx="65.5" cy="56.0" r="1.1"/><circle cx="49.6" cy="57.5" r="1.1"/><circle cx="53.5" cy="57.1" r="1.1"/><circle cx="55.4" cy="57.3" r="1.1"/><circle cx="57.3" cy="57.1" r="1.1"/><circle cx="59.3" cy="57.5" r="1.1"/><circle cx="62.3" cy="57.1" r="1.1"/><circle cx="64.3" cy="57.0" r="1.1"/><circle cx="52.6" cy="58.9" r="1.1"/><circle cx="54.6" cy="58.7" r="1.1"/><circle cx="56.0" cy="58.7" r="1.1"/><circle cx="61.0" cy="59.0" r="1.1"/><circle cx="54.5" cy="60.2" r="1.1"/><circle cx="58.0" cy="60.6" r="1.1"/><circle cx="59.6" cy="60.5" r="1.1"/><circle cx="50.0" cy="62.1" r="1.1"/><circle cx="51.9" cy="61.9" r="1.1"/><circle cx="54.2" cy="61.8" r="1.1"/><circle cx="57.7" cy="62.0" r="1.1"/><circle cx="59.7" cy="62.0" r="1.1"/><circle cx="61.6" cy="61.7" r="1.1"/><circle cx="63.9" cy="61.8" r="1.1"/><circle cx="50.0" cy="63.7" r="1.1"/><circle cx="55.1" cy="63.3" r="1.1"/><circle cx="56.6" cy="63.7" r="1.1"/><circle cx="60.1" cy="63.4" r="1.1"/><circle cx="61.9" cy="63.4" r="1.1"/><circle cx="64.0" cy="63.6" r="1.1"/><circle cx="52.4" cy="65.2" r="1.1"/><circle cx="55.9" cy="65.0" r="1.1"/><circle cx="58.0" cy="65.3" r="1.1"/><circle cx="59.9" cy="64.7" r="1.1"/><circle cx="61.6" cy="64.8" r="1.1"/><circle cx="63.3" cy="65.2" r="1.1"/><circle cx="51.6" cy="66.7" r="1.1"/><circle cx="53.2" cy="66.4" r="1.1"/><circle cx="57.3" cy="66.5" r="1.1"/><circle cx="59.3" cy="66.7" r="1.1"/><circle cx="61.2" cy="66.7" r="1.1"/><circle cx="54.0" cy="68.2" r="1.1"/><circle cx="51.4" cy="69.8" r="1.1"/><circle cx="55.5" cy="69.4" r="1.1"/><circle cx="60.9" cy="69.5" r="1.1"/><circle cx="62.5" cy="69.9" r="1.1"/><circle cx="52.6" cy="71.3" r="1.1"/><circle cx="55.5" cy="71.2" r="1.1"/><circle cx="57.7" cy="70.9" r="1.1"/><circle cx="59.0" cy="71.0" r="1.1"/><circle cx="61.3" cy="71.3" r="1.1"/><circle cx="52.7" cy="72.6" r="1.1"/><circle cx="56.0" cy="72.9" r="1.1"/><circle cx="57.5" cy="73.0" r="1.1"/><circle cx="61.2" cy="73.0" r="1.1"/><circle cx="53.5" cy="74.6" r="1.1"/><circle cx="57.0" cy="74.3" r="1.1"/><circle cx="58.9" cy="74.4" r="1.1"/><circle cx="59.9" cy="74.3" r="1.1"/><circle cx="56.7" cy="75.6" r="1.1"/><circle cx="58.4" cy="76.1" r="1.1"/><circle cx="60.3" cy="76.1" r="1.1"/><circle cx="55.6" cy="77.6" r="1.1"/><circle cx="57.5" cy="77.6" r="1.1"/><circle cx="56.3" cy="31.6" r="1.1"/><circle cx="56.8" cy="84.7" r="1.1"/><circle cx="57.9" cy="83.0" r="1.1"/><circle cx="56.3" cy="95.6" r="1.1"/><circle cx="56.3" cy="103.5" r="1.1"/></g>
<polygon fill="#e8312b" points="91.00,42.90 87.70,43.45 87.70,44.00 87.70,44.55 87.70,45.10 87.70,45.65 87.70,46.20 87.70,46.75 87.70,47.30 121.40,47.30 121.40,46.75 121.40,46.20 121.40,45.65 121.40,45.10 121.40,44.55 121.40,44.00 121.40,43.45 118.18,42.90"/>
<g fill="#e8312b"><circle cx="100.7" cy="40.2" r="1.1"/><circle cx="102.1" cy="40.3" r="1.1"/><circle cx="104.0" cy="40.5" r="1.1"/><circle cx="105.6" cy="40.2" r="1.1"/><circle cx="106.9" cy="40.6" r="1.1"/><circle cx="109.0" cy="40.1" r="1.1"/><circle cx="100.5" cy="42.2" r="1.1"/><circle cx="102.1" cy="42.2" r="1.1"/><circle cx="103.8" cy="42.3" r="1.1"/><circle cx="107.3" cy="41.7" r="1.1"/><circle cx="108.9" cy="41.8" r="1.1"/><circle cx="87.2" cy="43.7" r="1.1"/><circle cx="89.3" cy="43.6" r="1.1"/><circle cx="91.1" cy="43.3" r="1.1"/><circle cx="93.3" cy="43.8" r="1.1"/><circle cx="94.7" cy="43.5" r="1.1"/><circle cx="96.7" cy="43.3" r="1.1"/><circle cx="98.3" cy="43.5" r="1.1"/><circle cx="100.2" cy="43.3" r="1.1"/><circle cx="102.0" cy="43.5" r="1.1"/><circle cx="103.8" cy="43.5" r="1.1"/><circle cx="105.4" cy="43.6" r="1.1"/><circle cx="107.5" cy="43.3" r="1.1"/><circle cx="109.1" cy="43.6" r="1.1"/><circle cx="111.0" cy="43.4" r="1.1"/><circle cx="112.8" cy="43.8" r="1.1"/><circle cx="114.9" cy="43.3" r="1.1"/><circle cx="116.4" cy="43.3" r="1.1"/><circle cx="118.5" cy="43.2" r="1.1"/><circle cx="120.2" cy="43.4" r="1.1"/><circle cx="121.4" cy="43.3" r="1.1"/><circle cx="90.8" cy="45.0" r="1.1"/><circle cx="93.1" cy="45.2" r="1.1"/><circle cx="94.7" cy="45.1" r="1.1"/><circle cx="96.4" cy="45.4" r="1.1"/><circle cx="98.1" cy="45.0" r="1.1"/><circle cx="100.0" cy="45.4" r="1.1"/><circle cx="102.1" cy="45.2" r="1.1"/><circle cx="103.6" cy="45.0" r="1.1"/><circle cx="105.7" cy="44.9" r="1.1"/><circle cx="107.3" cy="44.9" r="1.1"/><circle cx="109.4" cy="45.1" r="1.1"/><circle cx="111.2" cy="45.4" r="1.1"/><circle cx="112.7" cy="45.2" r="1.1"/><circle cx="114.7" cy="45.1" r="1.1"/><circle cx="116.3" cy="45.2" r="1.1"/><circle cx="117.9" cy="45.2" r="1.1"/><circle cx="120.2" cy="45.3" r="1.1"/><circle cx="121.7" cy="45.3" r="1.1"/><circle cx="87.3" cy="46.6" r="1.1"/><circle cx="89.2" cy="46.7" r="1.1"/><circle cx="90.7" cy="46.7" r="1.1"/><circle cx="92.7" cy="46.5" r="1.1"/><circle cx="94.4" cy="46.8" r="1.1"/><circle cx="96.1" cy="46.6" r="1.1"/><circle cx="98.3" cy="46.8" r="1.1"/><circle cx="99.9" cy="46.4" r="1.1"/><circle cx="101.7" cy="46.5" r="1.1"/><circle cx="103.5" cy="46.5" r="1.1"/><circle cx="105.6" cy="46.4" r="1.1"/><circle cx="107.0" cy="46.5" r="1.1"/><circle cx="108.8" cy="46.9" r="1.1"/><circle cx="110.9" cy="46.5" r="1.1"/><circle cx="112.6" cy="46.9" r="1.1"/><circle cx="114.4" cy="46.9" r="1.1"/><circle cx="116.0" cy="46.7" r="1.1"/><circle cx="117.9" cy="46.8" r="1.1"/><circle cx="120.1" cy="46.7" r="1.1"/><circle cx="121.6" cy="46.8" r="1.1"/><circle cx="91.7" cy="48.1" r="1.1"/><circle cx="93.3" cy="48.3" r="1.1"/><circle cx="94.9" cy="48.4" r="1.1"/><circle cx="97.2" cy="48.3" r="1.1"/><circle cx="98.9" cy="48.5" r="1.1"/><circle cx="100.2" cy="48.3" r="1.1"/><circle cx="104.1" cy="48.2" r="1.1"/><circle cx="105.6" cy="48.2" r="1.1"/><circle cx="107.4" cy="48.2" r="1.1"/><circle cx="110.8" cy="48.1" r="1.1"/><circle cx="114.3" cy="48.4" r="1.1"/><circle cx="101.3" cy="50.0" r="1.1"/><circle cx="105.5" cy="49.5" r="1.1"/><circle cx="106.9" cy="49.6" r="1.1"/><circle cx="104.7" cy="35.9" r="1.1"/><circle cx="104.7" cy="82.5" r="1.1"/></g>
<polygon fill="#80368f" points="192.00,23.60 192.00,24.84 192.00,26.08 191.30,27.32 191.30,28.56 189.30,29.80 189.30,31.04 186.10,32.28 182.10,33.52 178.10,34.76 178.10,36.00 175.40,37.24 175.40,38.48 177.10,39.72 177.10,40.96 185.00,42.20 185.86,43.44 189.30,44.68 189.30,45.92 190.90,47.16 190.90,48.40 194.10,48.40 194.10,47.16 196.50,45.92 196.50,44.68 199.22,43.44 199.90,42.20 206.90,40.96 206.90,39.72 208.70,38.48 208.70,37.24 205.90,36.00 205.90,34.76 201.40,33.52 197.90,32.28 195.20,31.04 195.20,29.80 193.50,28.56 193.50,27.32 192.40,26.08 192.40,24.84 192.40,23.60"/>
<g fill="#80368f"><circle cx="191.8" cy="24.6" r="1.1"/><circle cx="192.5" cy="24.2" r="1.1"/><circle cx="191.5" cy="26.0" r="1.1"/><circle cx="192.6" cy="25.9" r="1.1"/><circle cx="190.7" cy="27.4" r="1.1"/><circle cx="192.9" cy="27.7" r="1.1"/><circle cx="194.0" cy="27.6" r="1.1"/><circle cx="190.9" cy="29.2" r="1.1"/><circle cx="192.9" cy="29.1" r="1.1"/><circle cx="193.7" cy="29.0" r="1.1"/><circle cx="189.2" cy="30.8" r="1.1"/><circle cx="192.1" cy="30.7" r="1.1"/><circle cx="193.8" cy="30.6" r="1.1"/><circle cx="195.3" cy="30.6" r="1.1"/><circle cx="185.9" cy="32.1" r="1.1"/><circle cx="187.4" cy="32.0" r="1.1"/><circle cx="189.0" cy="32.1" r="1.1"/><circle cx="191.0" cy="32.4" r="1.1"/><circle cx="192.8" cy="32.4" r="1.1"/><circle cx="194.2" cy="32.3" r="1.1"/><circle cx="196.3" cy="31.9" r="1.1"/><circle cx="198.4" cy="32.4" r="1.1"/><circle cx="182.0" cy="33.6" r="1.1"/><circle cx="183.6" cy="34.0" r="1.1"/><circle cx="185.8" cy="33.5" r="1.1"/><circle cx="187.5" cy="33.7" r="1.1"/><circle cx="189.4" cy="33.6" r="1.1"/><circle cx="190.9" cy="33.8" r="1.1"/><circle cx="192.7" cy="33.4" r="1.1"/><circle cx="194.7" cy="33.7" r="1.1"/><circle cx="196.5" cy="33.6" r="1.1"/><circle cx="198.0" cy="34.0" r="1.1"/><circle cx="200.0" cy="33.5" r="1.1"/><circle cx="201.4" cy="33.7" r="1.1"/><circle cx="177.5" cy="35.1" r="1.1"/><circle cx="179.8" cy="35.2" r="1.1"/><circle cx="181.3" cy="35.1" r="1.1"/><circle cx="183.0" cy="35.5" r="1.1"/><circle cx="184.6" cy="35.3" r="1.1"/><circle cx="186.4" cy="35.3" r="1.1"/><circle cx="188.2" cy="35.1" r="1.1"/><circle cx="190.0" cy="34.9" r="1.1"/><circle cx="191.6" cy="35.4" r="1.1"/><circle cx="193.4" cy="35.4" r="1.1"/><circle cx="195.4" cy="35.3" r="1.1"/><circle cx="197.1" cy="35.2" r="1.1"/><circle cx="199.2" cy="35.0" r="1.1"/><circle cx="200.6" cy="35.1" r="1.1"/><circle cx="202.3" cy="35.0" r="1.1"/><circle cx="204.3" cy="35.5" r="1.1"/><circle cx="174.9" cy="37.0" r="1.1"/><circle cx="176.8" cy="36.8" r="1.1"/><circle cx="178.0" cy="36.6" r="1.1"/><circle cx="179.9" cy="36.8" r="1.1"/><circle cx="181.8" cy="37.0" r="1.1"/><circle cx="183.8" cy="36.9" r="1.1"/><circle cx="185.5" cy="37.0" r="1.1"/><circle cx="187.3" cy="36.8" r="1.1"/><circle cx="189.2" cy="36.5" r="1.1"/><circle cx="190.8" cy="37.0" r="1.1"/><circle cx="192.5" cy="37.1" r="1.1"/><circle cx="194.1" cy="36.5" r="1.1"/><circle cx="196.3" cy="36.5" r="1.1"/><circle cx="198.1" cy="37.1" r="1.1"/><circle cx="199.7" cy="36.8" r="1.1"/><circle cx="201.6" cy="36.6" r="1.1"/><circle cx="203.0" cy="36.7" r="1.1"/><circle cx="206.7" cy="36.9" r="1.1"/><circle cx="208.7" cy="36.5" r="1.1"/><circle cx="175.4" cy="38.2" r="1.1"/><circle cx="176.9" cy="38.3" r="1.1"/><circle cx="180.3" cy="38.2" r="1.1"/><circle cx="182.3" cy="38.3" r="1.1"/><circle cx="183.8" cy="38.3" r="1.1"/><circle cx="185.7" cy="38.0" r="1.1"/><circle cx="187.2" cy="38.1" r="1.1"/><circle cx="189.1" cy="38.6" r="1.1"/><circle cx="191.0" cy="38.5" r="1.1"/><circle cx="192.9" cy="38.4" r="1.1"/><circle cx="194.8" cy="38.0" r="1.1"/><circle cx="196.1" cy="38.5" r="1.1"/><circle cx="197.8" cy="38.3" r="1.1"/><circle cx="199.7" cy="38.3" r="1.1"/><circle cx="201.5" cy="38.3" r="1.1"/><circle cx="203.4" cy="38.5" r="1.1"/><circle cx="205.1" cy="38.1" r="1.1"/><circle cx="207.0" cy="38.6" r="1.1"/><circle cx="208.8" cy="38.6" r="1.1"/><circle cx="177.0" cy="40.0" r="1.1"/><circle cx="179.0" cy="39.9" r="1.1"/><circle cx="180.5" cy="40.0" r="1.1"/><circle cx="182.2" cy="40.0" r="1.1"/><circle cx="184.3" cy="40.0" r="1.1"/><circle cx="186.0" cy="40.1" r="1.1"/><circle cx="187.9" cy="39.8" r="1.1"/><circle cx="189.6" cy="40.1" r="1.1"/><circle cx="191.6" cy="40.1" r="1.1"/><circle cx="193.2" cy="39.6" r="1.1"/><circle cx="195.0" cy="40.1" r="1.1"/><circle cx="197.1" cy="39.8" r="1.1"/><circle cx="198.6" cy="40.0" r="1.1"/><circle cx="200.2" cy="39.7" r="1.1"/><circle cx="202.1" cy="40.1" r="1.1"/><circle cx="204.2" cy="39.7" r="1.1"/><circle cx="206.0" cy="39.6" r="1.1"/><circle cx="207.0" cy="39.6" r="1.1"/><circle cx="177.1" cy="41.1" r="1.1"/><circle cx="178.8" cy="41.3" r="1.1"/><circle cx="181.1" cy="41.5" r="1.1"/><circle cx="182.9" cy="41.6" r="1.1"/><circle cx="184.4" cy="41.1" r="1.1"/><circle cx="186.4" cy="41.4" r="1.1"/><circle cx="188.1" cy="41.5" r="1.1"/><circle cx="190.1" cy="41.3" r="1.1"/><circle cx="192.0" cy="41.4" r="1.1"/><circle cx="193.6" cy="41.5" r="1.1"/><circle cx="195.7" cy="41.2" r="1.1"/><circle cx="197.7" cy="41.3" r="1.1"/><circle cx="199.1" cy="41.3" r="1.1"/><circle cx="201.1" cy="41.2" r="1.1"/><circle cx="203.0" cy="41.4" r="1.1"/><circle cx="204.6" cy="41.3" r="1.1"/><circle cx="206.4" cy="41.6" r="1.1"/><circle cx="184.9" cy="43.2" r="1.1"/><circle cx="186.0" cy="42.7" r="1.1"/><circle cx="187.8" cy="42.8" r="1.1"/><circle cx="189.8" cy="42.7" r="1.1"/><circle cx="191.4" cy="43.1" r="1.1"/><circle cx="193.1" cy="43.0" r="1.1"/><circle cx="195.0" cy="43.1" r="1.1"/><circle cx="196.6" cy="43.0" r="1.1"/><circle cx="198.3" cy="43.0" r="1.1"/><circle cx="199.9" cy="43.1" r="1.1"/><circle cx="188.9" cy="44.5" r="1.1"/><circle cx="191.0" cy="44.6" r="1.1"/><circle cx="192.9" cy="44.5" r="1.1"/><circle cx="194.9" cy="44.6" r="1.1"/><circle cx="197.0" cy="44.5" r="1.1"/><circle cx="189.3" cy="46.0" r="1.1"/><circle cx="191.4" cy="45.8" r="1.1"/><circle cx="193.0" cy="46.0" r="1.1"/><circle cx="194.3" cy="46.2" r="1.1"/><circle cx="196.2" cy="45.8" r="1.1"/><circle cx="190.7" cy="47.6" r="1.1"/><circle cx="192.1" cy="47.7" r="1.1"/><circle cx="194.5" cy="47.7" r="1.1"/><circle cx="192.2" cy="23.4" r="1.1"/></g>
<g fill="#80368f"><circle cx="192.2" cy="50.1" r="1.25"/><circle cx="192.2" cy="52.0" r="1.25"/><circle cx="192.6" cy="53.6" r="1.25"/><circle cx="192.2" cy="58.8" r="1.25"/><circle cx="192.2" cy="63.3" r="1.25"/><circle cx="191.5" cy="65.0" r="1.25"/><circle cx="192.9" cy="65.2" r="1.25"/><circle cx="192.2" cy="66.9" r="1.25"/><circle cx="191.6" cy="68.7" r="1.25"/><circle cx="192.8" cy="68.8" r="1.25"/><circle cx="192.2" cy="70.6" r="1.25"/><circle cx="191.5" cy="72.4" r="1.25"/><circle cx="192.9" cy="72.5" r="1.25"/><circle cx="192.2" cy="74.3" r="1.25"/><circle cx="191.6" cy="76.2" r="1.25"/><circle cx="192.8" cy="76.3" r="1.25"/><circle cx="192.2" cy="78.3" r="1.25"/><circle cx="192.2" cy="80.5" r="1.25"/></g>
<g fill="#3a4aa0"><circle cx="66.2" cy="185.4" r="1.1"/><circle cx="70.1" cy="185.0" r="1.1"/><circle cx="72.0" cy="185.3" r="1.1"/><circle cx="74.4" cy="185.0" r="1.1"/><circle cx="60.1" cy="186.9" r="1.1"/><circle cx="63.1" cy="186.6" r="1.1"/><circle cx="65.0" cy="187.0" r="1.1"/><circle cx="66.9" cy="186.9" r="1.1"/><circle cx="69.3" cy="186.7" r="1.1"/><circle cx="70.8" cy="186.7" r="1.1"/><circle cx="72.5" cy="187.0" r="1.1"/><circle cx="74.8" cy="186.6" r="1.1"/><circle cx="63.3" cy="188.1" r="1.1"/><circle cx="65.2" cy="188.1" r="1.1"/><circle cx="70.3" cy="188.3" r="1.1"/><circle cx="72.4" cy="188.2" r="1.1"/><circle cx="73.7" cy="188.4" r="1.1"/><circle cx="77.2" cy="188.3" r="1.1"/><circle cx="56.4" cy="189.9" r="1.1"/><circle cx="58.1" cy="189.6" r="1.1"/><circle cx="60.4" cy="189.7" r="1.1"/><circle cx="61.9" cy="189.6" r="1.1"/><circle cx="64.0" cy="190.0" r="1.1"/><circle cx="65.8" cy="189.9" r="1.1"/><circle cx="71.5" cy="190.1" r="1.1"/><circle cx="73.3" cy="189.8" r="1.1"/><circle cx="74.7" cy="190.1" r="1.1"/><circle cx="76.5" cy="190.0" r="1.1"/><circle cx="78.5" cy="190.0" r="1.1"/><circle cx="80.1" cy="189.7" r="1.1"/><circle cx="55.2" cy="191.3" r="1.1"/><circle cx="60.9" cy="191.2" r="1.1"/><circle cx="64.7" cy="191.1" r="1.1"/><circle cx="66.5" cy="191.5" r="1.1"/><circle cx="69.9" cy="191.4" r="1.1"/><circle cx="73.6" cy="191.2" r="1.1"/><circle cx="75.1" cy="191.5" r="1.1"/><circle cx="79.1" cy="191.5" r="1.1"/><circle cx="54.3" cy="193.2" r="1.1"/><circle cx="57.9" cy="192.7" r="1.1"/><circle cx="60.0" cy="192.7" r="1.1"/><circle cx="63.4" cy="192.9" r="1.1"/><circle cx="65.5" cy="192.7" r="1.1"/><circle cx="67.2" cy="192.8" r="1.1"/><circle cx="69.2" cy="192.6" r="1.1"/><circle cx="71.3" cy="193.1" r="1.1"/><circle cx="72.6" cy="192.9" r="1.1"/><circle cx="74.9" cy="192.7" r="1.1"/><circle cx="76.4" cy="193.0" r="1.1"/><circle cx="78.1" cy="192.8" r="1.1"/><circle cx="80.5" cy="192.8" r="1.1"/><circle cx="82.0" cy="193.2" r="1.1"/><circle cx="54.4" cy="194.6" r="1.1"/><circle cx="57.9" cy="194.5" r="1.1"/><circle cx="59.3" cy="194.6" r="1.1"/><circle cx="63.2" cy="194.8" r="1.1"/><circle cx="64.9" cy="194.2" r="1.1"/><circle cx="67.1" cy="194.4" r="1.1"/><circle cx="68.5" cy="194.5" r="1.1"/><circle cx="70.6" cy="194.4" r="1.1"/><circle cx="72.3" cy="194.2" r="1.1"/><circle cx="74.2" cy="194.6" r="1.1"/><circle cx="76.3" cy="194.4" r="1.1"/><circle cx="77.9" cy="194.4" r="1.1"/><circle cx="80.1" cy="194.2" r="1.1"/><circle cx="82.0" cy="194.6" r="1.1"/><circle cx="54.5" cy="196.2" r="1.1"/><circle cx="56.8" cy="196.1" r="1.1"/><circle cx="58.2" cy="196.2" r="1.1"/><circle cx="60.3" cy="196.2" r="1.1"/><circle cx="65.6" cy="195.9" r="1.1"/><circle cx="67.4" cy="196.0" r="1.1"/><circle cx="69.3" cy="196.3" r="1.1"/><circle cx="71.2" cy="195.8" r="1.1"/><circle cx="74.8" cy="195.9" r="1.1"/><circle cx="76.9" cy="195.9" r="1.1"/><circle cx="80.3" cy="196.2" r="1.1"/><circle cx="82.1" cy="195.8" r="1.1"/><circle cx="54.3" cy="197.8" r="1.1"/><circle cx="56.3" cy="197.6" r="1.1"/><circle cx="58.0" cy="197.5" r="1.1"/><circle cx="59.8" cy="197.8" r="1.1"/><circle cx="62.0" cy="197.8" r="1.1"/><circle cx="63.4" cy="197.5" r="1.1"/><circle cx="65.6" cy="197.7" r="1.1"/><circle cx="67.1" cy="197.6" r="1.1"/><circle cx="69.1" cy="197.5" r="1.1"/><circle cx="72.7" cy="197.7" r="1.1"/><circle cx="74.7" cy="197.3" r="1.1"/><circle cx="76.5" cy="197.6" r="1.1"/><circle cx="78.6" cy="197.7" r="1.1"/><circle cx="55.5" cy="199.3" r="1.1"/><circle cx="57.3" cy="198.9" r="1.1"/><circle cx="59.1" cy="199.1" r="1.1"/><circle cx="60.7" cy="199.3" r="1.1"/><circle cx="62.3" cy="199.0" r="1.1"/><circle cx="64.3" cy="199.3" r="1.1"/><circle cx="65.7" cy="199.1" r="1.1"/><circle cx="67.5" cy="198.9" r="1.1"/><circle cx="69.2" cy="199.1" r="1.1"/><circle cx="71.3" cy="198.9" r="1.1"/><circle cx="73.2" cy="199.1" r="1.1"/><circle cx="74.9" cy="199.2" r="1.1"/><circle cx="76.2" cy="199.3" r="1.1"/><circle cx="78.0" cy="199.0" r="1.1"/><circle cx="80.5" cy="198.9" r="1.1"/><circle cx="55.6" cy="200.8" r="1.1"/><circle cx="58.0" cy="200.7" r="1.1"/><circle cx="59.6" cy="200.9" r="1.1"/><circle cx="61.5" cy="200.9" r="1.1"/><circle cx="63.3" cy="200.9" r="1.1"/><circle cx="64.5" cy="200.5" r="1.1"/><circle cx="66.6" cy="200.8" r="1.1"/><circle cx="68.1" cy="200.9" r="1.1"/><circle cx="70.3" cy="200.4" r="1.1"/><circle cx="73.7" cy="200.8" r="1.1"/><circle cx="76.8" cy="200.6" r="1.1"/><circle cx="78.8" cy="200.8" r="1.1"/><circle cx="80.2" cy="200.3" r="1.1"/><circle cx="56.2" cy="202.3" r="1.1"/><circle cx="58.0" cy="202.4" r="1.1"/><circle cx="60.2" cy="202.2" r="1.1"/><circle cx="61.6" cy="202.1" r="1.1"/><circle cx="63.7" cy="202.3" r="1.1"/><circle cx="65.2" cy="202.1" r="1.1"/><circle cx="67.1" cy="202.0" r="1.1"/><circle cx="68.9" cy="201.9" r="1.1"/><circle cx="72.7" cy="202.3" r="1.1"/><circle cx="74.6" cy="202.1" r="1.1"/><circle cx="75.8" cy="202.3" r="1.1"/><circle cx="77.9" cy="202.5" r="1.1"/><circle cx="79.5" cy="202.3" r="1.1"/><circle cx="57.1" cy="203.6" r="1.1"/><circle cx="61.2" cy="203.6" r="1.1"/><circle cx="63.0" cy="203.8" r="1.1"/><circle cx="66.4" cy="203.6" r="1.1"/><circle cx="68.5" cy="204.0" r="1.1"/><circle cx="70.3" cy="203.9" r="1.1"/><circle cx="71.7" cy="203.8" r="1.1"/><circle cx="73.8" cy="203.6" r="1.1"/><circle cx="75.3" cy="203.5" r="1.1"/><circle cx="77.2" cy="203.8" r="1.1"/><circle cx="78.8" cy="203.6" r="1.1"/><circle cx="57.2" cy="205.0" r="1.1"/><circle cx="59.4" cy="205.2" r="1.1"/><circle cx="61.3" cy="205.3" r="1.1"/><circle cx="63.0" cy="205.3" r="1.1"/><circle cx="64.6" cy="205.5" r="1.1"/><circle cx="66.5" cy="205.3" r="1.1"/><circle cx="68.1" cy="205.4" r="1.1"/><circle cx="69.9" cy="205.3" r="1.1"/><circle cx="71.9" cy="205.0" r="1.1"/><circle cx="73.5" cy="205.1" r="1.1"/><circle cx="75.3" cy="205.0" r="1.1"/><circle cx="76.8" cy="205.4" r="1.1"/><circle cx="78.6" cy="205.1" r="1.1"/><circle cx="59.6" cy="206.9" r="1.1"/><circle cx="62.9" cy="206.8" r="1.1"/><circle cx="64.8" cy="206.9" r="1.1"/><circle cx="66.8" cy="206.8" r="1.1"/><circle cx="68.4" cy="206.9" r="1.1"/><circle cx="70.2" cy="206.8" r="1.1"/><circle cx="74.1" cy="206.5" r="1.1"/><circle cx="76.1" cy="207.0" r="1.1"/><circle cx="59.5" cy="208.3" r="1.1"/><circle cx="63.4" cy="208.1" r="1.1"/><circle cx="67.3" cy="208.5" r="1.1"/><circle cx="68.8" cy="208.1" r="1.1"/><circle cx="70.7" cy="208.4" r="1.1"/><circle cx="72.6" cy="208.1" r="1.1"/><circle cx="74.0" cy="208.2" r="1.1"/><circle cx="76.4" cy="208.1" r="1.1"/><circle cx="62.0" cy="209.8" r="1.1"/><circle cx="63.4" cy="210.1" r="1.1"/><circle cx="65.3" cy="210.0" r="1.1"/><circle cx="66.9" cy="209.8" r="1.1"/><circle cx="68.6" cy="209.8" r="1.1"/><circle cx="70.1" cy="210.1" r="1.1"/><circle cx="71.8" cy="209.6" r="1.1"/><circle cx="74.0" cy="209.8" r="1.1"/><circle cx="63.9" cy="211.4" r="1.1"/><circle cx="67.8" cy="211.3" r="1.1"/><circle cx="70.1" cy="211.5" r="1.1"/><circle cx="71.6" cy="211.7" r="1.1"/><circle cx="63.9" cy="213.1" r="1.1"/><circle cx="72.0" cy="212.9" r="1.1"/><circle cx="65.9" cy="214.6" r="1.1"/><circle cx="67.5" cy="214.7" r="1.1"/><circle cx="69.7" cy="217.5" r="1.1"/><circle cx="71.1" cy="217.4" r="1.1"/><circle cx="64.3" cy="219.3" r="1.1"/><circle cx="65.7" cy="218.9" r="1.1"/><circle cx="69.0" cy="219.3" r="1.1"/><circle cx="71.1" cy="219.3" r="1.1"/><circle cx="64.4" cy="220.9" r="1.1"/><circle cx="67.5" cy="220.6" r="1.1"/><circle cx="64.6" cy="222.1" r="1.1"/><circle cx="69.4" cy="221.9" r="1.1"/><circle cx="71.0" cy="222.1" r="1.1"/><circle cx="64.5" cy="223.6" r="1.1"/><circle cx="64.5" cy="225.1" r="1.1"/><circle cx="67.7" cy="225.1" r="1.1"/><circle cx="69.7" cy="225.5" r="1.1"/><circle cx="64.7" cy="226.7" r="1.1"/><circle cx="64.9" cy="230.2" r="1.1"/><circle cx="70.8" cy="229.9" r="1.1"/><circle cx="64.8" cy="231.2" r="1.1"/><circle cx="70.6" cy="231.3" r="1.1"/><circle cx="67.1" cy="233.3" r="1.1"/><circle cx="65.0" cy="235.9" r="1.1"/><circle cx="66.8" cy="235.9" r="1.1"/><circle cx="70.6" cy="236.0" r="1.1"/><circle cx="64.8" cy="237.4" r="1.1"/><circle cx="66.6" cy="237.5" r="1.1"/><circle cx="68.6" cy="237.8" r="1.1"/><circle cx="67.8" cy="239.3" r="1.1"/><circle cx="66.2" cy="241.0" r="1.1"/><circle cx="71.3" cy="240.6" r="1.1"/><circle cx="64.3" cy="242.1" r="1.1"/><circle cx="66.4" cy="242.4" r="1.1"/><circle cx="69.6" cy="242.5" r="1.1"/><circle cx="71.2" cy="242.4" r="1.1"/><circle cx="69.4" cy="243.8" r="1.1"/><circle cx="64.4" cy="245.3" r="1.1"/><circle cx="66.0" cy="245.3" r="1.1"/><circle cx="68.0" cy="245.6" r="1.1"/><circle cx="64.4" cy="247.1" r="1.1"/><circle cx="66.2" cy="246.8" r="1.1"/><circle cx="68.0" cy="246.6" r="1.1"/><circle cx="64.2" cy="248.6" r="1.1"/><circle cx="66.0" cy="248.2" r="1.1"/><circle cx="67.6" cy="250.0" r="1.1"/><circle cx="69.1" cy="250.2" r="1.1"/><circle cx="70.9" cy="249.8" r="1.1"/><circle cx="67.4" cy="251.8" r="1.1"/><circle cx="69.3" cy="251.3" r="1.1"/><circle cx="64.2" cy="252.8" r="1.1"/><circle cx="65.9" cy="253.1" r="1.1"/><circle cx="69.0" cy="253.2" r="1.1"/><circle cx="71.4" cy="253.3" r="1.1"/><circle cx="64.2" cy="254.6" r="1.1"/><circle cx="65.8" cy="254.5" r="1.1"/><circle cx="66.4" cy="255.9" r="1.1"/><circle cx="71.2" cy="256.0" r="1.1"/><circle cx="64.5" cy="257.9" r="1.1"/><circle cx="67.9" cy="258.0" r="1.1"/><circle cx="71.1" cy="257.9" r="1.1"/><circle cx="64.3" cy="259.5" r="1.1"/><circle cx="66.1" cy="259.3" r="1.1"/><circle cx="71.4" cy="259.5" r="1.1"/><circle cx="64.2" cy="260.9" r="1.1"/><circle cx="65.9" cy="261.0" r="1.1"/><circle cx="67.7" cy="260.8" r="1.1"/><circle cx="68.9" cy="262.3" r="1.1"/><circle cx="70.1" cy="263.7" r="1.1"/><circle cx="67.8" cy="265.5" r="1.1"/><circle cx="67.8" cy="267.0" r="1.1"/><circle cx="70.5" cy="267.2" r="1.1"/><circle cx="68.1" cy="268.4" r="1.1"/><circle cx="70.1" cy="269.8" r="1.1"/><circle cx="66.9" cy="276.1" r="1.1"/><circle cx="68.1" cy="178.5" r="1.1"/><circle cx="66.7" cy="182.8" r="1.1"/><circle cx="71.2" cy="183.9" r="1.1"/><circle cx="67.5" cy="279.4" r="1.1"/></g>
<polygon fill="#e8312b" points="100.10,194.52 100.10,195.25 94.00,195.98 94.00,196.71 94.00,197.44 94.00,198.17 94.00,198.90 94.00,199.63 94.00,200.36 94.00,201.09 122.10,201.09 122.10,200.36 122.10,199.63 122.10,198.90 122.10,198.17 122.10,197.44 122.10,196.71 122.10,195.98 115.90,195.25 115.90,194.52"/>
<g fill="#e8312b"><circle cx="103.0" cy="192.7" r="1.1"/><circle cx="105.4" cy="192.5" r="1.1"/><circle cx="107.9" cy="192.2" r="1.1"/><circle cx="111.3" cy="192.7" r="1.1"/><circle cx="99.9" cy="193.8" r="1.1"/><circle cx="101.8" cy="193.9" r="1.1"/><circle cx="103.8" cy="194.1" r="1.1"/><circle cx="105.6" cy="194.3" r="1.1"/><circle cx="107.4" cy="194.1" r="1.1"/><circle cx="109.3" cy="193.9" r="1.1"/><circle cx="111.2" cy="194.1" r="1.1"/><circle cx="112.9" cy="194.1" r="1.1"/><circle cx="114.3" cy="194.0" r="1.1"/><circle cx="116.5" cy="194.0" r="1.1"/><circle cx="93.8" cy="195.9" r="1.1"/><circle cx="95.4" cy="195.7" r="1.1"/><circle cx="97.4" cy="195.7" r="1.1"/><circle cx="99.2" cy="195.7" r="1.1"/><circle cx="101.2" cy="195.6" r="1.1"/><circle cx="102.6" cy="195.9" r="1.1"/><circle cx="104.5" cy="195.6" r="1.1"/><circle cx="106.5" cy="195.5" r="1.1"/><circle cx="108.0" cy="195.5" r="1.1"/><circle cx="109.7" cy="195.4" r="1.1"/><circle cx="111.8" cy="195.7" r="1.1"/><circle cx="113.6" cy="195.4" r="1.1"/><circle cx="115.4" cy="195.9" r="1.1"/><circle cx="117.2" cy="195.6" r="1.1"/><circle cx="118.9" cy="195.9" r="1.1"/><circle cx="120.6" cy="195.8" r="1.1"/><circle cx="122.3" cy="195.8" r="1.1"/><circle cx="94.0" cy="197.0" r="1.1"/><circle cx="95.8" cy="197.2" r="1.1"/><circle cx="97.7" cy="197.2" r="1.1"/><circle cx="99.1" cy="197.6" r="1.1"/><circle cx="100.9" cy="197.1" r="1.1"/><circle cx="103.1" cy="197.1" r="1.1"/><circle cx="104.5" cy="197.3" r="1.1"/><circle cx="106.4" cy="197.4" r="1.1"/><circle cx="108.5" cy="197.0" r="1.1"/><circle cx="110.3" cy="197.0" r="1.1"/><circle cx="111.9" cy="197.2" r="1.1"/><circle cx="113.8" cy="197.3" r="1.1"/><circle cx="115.3" cy="197.1" r="1.1"/><circle cx="117.4" cy="197.1" r="1.1"/><circle cx="119.2" cy="197.0" r="1.1"/><circle cx="120.9" cy="197.0" r="1.1"/><circle cx="122.1" cy="197.4" r="1.1"/><circle cx="94.0" cy="199.1" r="1.1"/><circle cx="95.1" cy="198.7" r="1.1"/><circle cx="97.1" cy="199.1" r="1.1"/><circle cx="98.6" cy="199.0" r="1.1"/><circle cx="100.7" cy="199.1" r="1.1"/><circle cx="102.2" cy="199.1" r="1.1"/><circle cx="103.9" cy="198.8" r="1.1"/><circle cx="106.1" cy="198.9" r="1.1"/><circle cx="107.8" cy="199.2" r="1.1"/><circle cx="109.4" cy="199.1" r="1.1"/><circle cx="111.2" cy="199.0" r="1.1"/><circle cx="112.8" cy="198.6" r="1.1"/><circle cx="114.7" cy="198.9" r="1.1"/><circle cx="116.4" cy="198.9" r="1.1"/><circle cx="118.5" cy="198.9" r="1.1"/><circle cx="119.9" cy="199.2" r="1.1"/><circle cx="122.6" cy="199.1" r="1.1"/><circle cx="93.5" cy="200.5" r="1.1"/><circle cx="95.4" cy="200.5" r="1.1"/><circle cx="97.1" cy="200.4" r="1.1"/><circle cx="100.7" cy="200.8" r="1.1"/><circle cx="102.4" cy="200.4" r="1.1"/><circle cx="104.0" cy="200.3" r="1.1"/><circle cx="105.8" cy="200.2" r="1.1"/><circle cx="107.5" cy="200.5" r="1.1"/><circle cx="109.3" cy="200.5" r="1.1"/><circle cx="111.2" cy="200.7" r="1.1"/><circle cx="113.1" cy="200.8" r="1.1"/><circle cx="114.8" cy="200.2" r="1.1"/><circle cx="116.7" cy="200.4" r="1.1"/><circle cx="118.3" cy="200.4" r="1.1"/><circle cx="120.0" cy="200.8" r="1.1"/><circle cx="122.2" cy="200.5" r="1.1"/><circle cx="96.5" cy="202.1" r="1.1"/><circle cx="99.1" cy="202.2" r="1.1"/><circle cx="100.7" cy="201.9" r="1.1"/><circle cx="102.6" cy="202.3" r="1.1"/><circle cx="104.0" cy="201.9" r="1.1"/><circle cx="105.8" cy="202.1" r="1.1"/><circle cx="109.5" cy="202.2" r="1.1"/><circle cx="111.0" cy="202.4" r="1.1"/><circle cx="113.0" cy="202.0" r="1.1"/><circle cx="115.1" cy="202.1" r="1.1"/><circle cx="116.7" cy="202.0" r="1.1"/><circle cx="118.5" cy="202.2" r="1.1"/><circle cx="103.0" cy="203.9" r="1.1"/><circle cx="104.8" cy="203.9" r="1.1"/><circle cx="106.6" cy="203.6" r="1.1"/><circle cx="108.1" cy="204.0" r="1.1"/><circle cx="110.0" cy="203.8" r="1.1"/><circle cx="102.6" cy="205.5" r="1.1"/><circle cx="104.4" cy="205.3" r="1.1"/><circle cx="105.8" cy="205.5" r="1.1"/><circle cx="107.6" cy="205.2" r="1.1"/><circle cx="109.8" cy="205.3" r="1.1"/><circle cx="108.1" cy="187.7" r="1.1"/><circle cx="108.0" cy="233.8" r="1.1"/></g>
<polygon fill="#80368f" points="181.30,179.60 181.30,180.92 181.30,182.24 178.20,183.56 178.20,184.88 174.60,186.20 174.60,187.52 171.70,188.84 171.70,190.16 168.00,191.48 168.00,192.80 170.70,194.12 170.70,195.44 176.60,196.76 179.10,198.08 179.10,199.40 180.90,200.72 180.90,202.04 180.90,203.36 180.90,204.68 180.90,206.00 182.90,206.00 182.90,204.68 182.90,203.36 182.90,202.04 182.90,200.72 184.40,199.40 184.40,198.08 187.90,196.76 192.90,195.44 192.90,194.12 195.80,192.80 195.80,191.48 191.40,190.16 191.40,188.84 187.00,187.52 187.00,186.20 184.10,184.88 184.10,183.56 182.30,182.24 182.30,180.92 182.30,179.60"/>
<g fill="#80368f"><circle cx="181.2" cy="180.2" r="1.1"/><circle cx="182.6" cy="180.4" r="1.1"/><circle cx="181.0" cy="181.8" r="1.1"/><circle cx="182.3" cy="181.7" r="1.1"/><circle cx="177.9" cy="183.6" r="1.1"/><circle cx="179.4" cy="183.7" r="1.1"/><circle cx="181.4" cy="183.6" r="1.1"/><circle cx="184.6" cy="183.4" r="1.1"/><circle cx="176.9" cy="184.8" r="1.1"/><circle cx="178.8" cy="185.1" r="1.1"/><circle cx="180.4" cy="184.9" r="1.1"/><circle cx="181.8" cy="185.2" r="1.1"/><circle cx="183.3" cy="184.8" r="1.1"/><circle cx="185.0" cy="185.1" r="1.1"/><circle cx="174.2" cy="186.5" r="1.1"/><circle cx="176.6" cy="186.6" r="1.1"/><circle cx="178.0" cy="186.8" r="1.1"/><circle cx="180.3" cy="186.4" r="1.1"/><circle cx="182.2" cy="186.7" r="1.1"/><circle cx="183.6" cy="186.9" r="1.1"/><circle cx="185.6" cy="186.3" r="1.1"/><circle cx="187.4" cy="186.9" r="1.1"/><circle cx="172.1" cy="188.4" r="1.1"/><circle cx="174.1" cy="188.4" r="1.1"/><circle cx="175.9" cy="187.9" r="1.1"/><circle cx="177.7" cy="188.4" r="1.1"/><circle cx="181.4" cy="188.2" r="1.1"/><circle cx="183.5" cy="188.3" r="1.1"/><circle cx="185.3" cy="188.4" r="1.1"/><circle cx="187.1" cy="188.4" r="1.1"/><circle cx="189.2" cy="188.3" r="1.1"/><circle cx="190.7" cy="188.3" r="1.1"/><circle cx="171.3" cy="189.6" r="1.1"/><circle cx="173.4" cy="189.7" r="1.1"/><circle cx="175.0" cy="189.8" r="1.1"/><circle cx="177.1" cy="189.9" r="1.1"/><circle cx="179.2" cy="189.4" r="1.1"/><circle cx="180.8" cy="189.5" r="1.1"/><circle cx="182.6" cy="189.7" r="1.1"/><circle cx="184.1" cy="189.6" r="1.1"/><circle cx="186.1" cy="189.9" r="1.1"/><circle cx="188.2" cy="189.5" r="1.1"/><circle cx="189.9" cy="189.4" r="1.1"/><circle cx="191.7" cy="189.8" r="1.1"/><circle cx="167.7" cy="191.1" r="1.1"/><circle cx="169.3" cy="191.5" r="1.1"/><circle cx="171.3" cy="191.4" r="1.1"/><circle cx="173.1" cy="191.1" r="1.1"/><circle cx="174.7" cy="191.1" r="1.1"/><circle cx="176.5" cy="191.2" r="1.1"/><circle cx="178.6" cy="191.2" r="1.1"/><circle cx="180.0" cy="191.1" r="1.1"/><circle cx="181.8" cy="191.1" r="1.1"/><circle cx="183.7" cy="191.0" r="1.1"/><circle cx="185.3" cy="191.3" r="1.1"/><circle cx="187.5" cy="191.1" r="1.1"/><circle cx="188.9" cy="191.5" r="1.1"/><circle cx="190.5" cy="191.4" r="1.1"/><circle cx="192.5" cy="191.0" r="1.1"/><circle cx="194.1" cy="191.4" r="1.1"/><circle cx="196.2" cy="191.1" r="1.1"/><circle cx="167.8" cy="192.6" r="1.1"/><circle cx="170.7" cy="192.5" r="1.1"/><circle cx="172.5" cy="192.9" r="1.1"/><circle cx="174.6" cy="192.8" r="1.1"/><circle cx="176.4" cy="192.9" r="1.1"/><circle cx="177.9" cy="192.6" r="1.1"/><circle cx="180.0" cy="192.6" r="1.1"/><circle cx="181.5" cy="192.9" r="1.1"/><circle cx="183.6" cy="192.8" r="1.1"/><circle cx="185.2" cy="192.9" r="1.1"/><circle cx="186.8" cy="193.0" r="1.1"/><circle cx="192.1" cy="193.0" r="1.1"/><circle cx="193.7" cy="192.7" r="1.1"/><circle cx="196.3" cy="192.8" r="1.1"/><circle cx="170.1" cy="194.2" r="1.1"/><circle cx="172.1" cy="194.4" r="1.1"/><circle cx="173.5" cy="194.2" r="1.1"/><circle cx="175.4" cy="194.2" r="1.1"/><circle cx="177.2" cy="194.6" r="1.1"/><circle cx="179.0" cy="194.3" r="1.1"/><circle cx="180.9" cy="194.6" r="1.1"/><circle cx="182.4" cy="194.1" r="1.1"/><circle cx="184.1" cy="194.3" r="1.1"/><circle cx="185.7" cy="194.3" r="1.1"/><circle cx="189.6" cy="194.5" r="1.1"/><circle cx="191.0" cy="194.4" r="1.1"/><circle cx="193.3" cy="194.4" r="1.1"/><circle cx="176.0" cy="195.9" r="1.1"/><circle cx="178.1" cy="195.8" r="1.1"/><circle cx="179.9" cy="196.0" r="1.1"/><circle cx="181.3" cy="195.8" r="1.1"/><circle cx="184.7" cy="195.9" r="1.1"/><circle cx="186.7" cy="195.8" r="1.1"/><circle cx="176.3" cy="197.7" r="1.1"/><circle cx="177.7" cy="197.7" r="1.1"/><circle cx="179.1" cy="197.7" r="1.1"/><circle cx="182.9" cy="197.2" r="1.1"/><circle cx="184.6" cy="197.6" r="1.1"/><circle cx="186.2" cy="197.5" r="1.1"/><circle cx="188.2" cy="197.7" r="1.1"/><circle cx="178.6" cy="199.1" r="1.1"/><circle cx="180.6" cy="199.2" r="1.1"/><circle cx="182.7" cy="198.7" r="1.1"/><circle cx="184.5" cy="199.3" r="1.1"/><circle cx="180.8" cy="200.6" r="1.1"/><circle cx="183.4" cy="200.6" r="1.1"/><circle cx="180.5" cy="202.2" r="1.1"/><circle cx="183.4" cy="202.0" r="1.1"/><circle cx="180.5" cy="203.8" r="1.1"/><circle cx="183.4" cy="203.5" r="1.1"/><circle cx="180.4" cy="205.0" r="1.1"/><circle cx="183.5" cy="205.3" r="1.1"/><circle cx="181.0" cy="177.3" r="1.1"/><circle cx="182.6" cy="177.3" r="1.1"/><circle cx="181.0" cy="178.9" r="1.1"/><circle cx="182.6" cy="178.9" r="1.1"/><circle cx="181.8" cy="178.1" r="1.1"/><circle cx="181.8" cy="176.8" r="1.1"/></g>
<g fill="#80368f"><circle cx="181.8" cy="210.9" r="1.25"/><circle cx="182.0" cy="213.5" r="1.25"/><circle cx="181.8" cy="218.5" r="1.25"/><circle cx="182.0" cy="220.5" r="1.25"/><circle cx="181.3" cy="223.0" r="1.25"/><circle cx="182.5" cy="223.2" r="1.25"/><circle cx="181.8" cy="224.8" r="1.25"/><circle cx="181.2" cy="226.4" r="1.25"/><circle cx="182.5" cy="226.5" r="1.25"/><circle cx="181.8" cy="228.0" r="1.25"/><circle cx="181.5" cy="229.6" r="1.25"/><circle cx="181.8" cy="232.0" r="1.25"/><circle cx="181.8" cy="234.0" r="1.25"/><circle cx="181.8" cy="238.6" r="1.25"/></g>
<g fill="#4cae45"><path d="M150.75,31.61L153.45,31.61L152.10,29.25Z"/><path d="M150.75,46.91L153.45,46.91L152.10,44.55Z"/><path d="M150.75,49.41L153.45,49.41L152.10,47.05Z"/><path d="M150.75,44.31L153.45,44.31L152.10,41.95Z"/><path d="M142.25,35.41L144.95,35.41L143.60,33.05Z"/><path d="M142.25,39.41L144.95,39.41L143.60,37.05Z"/><path d="M142.25,43.01L144.95,43.01L143.60,40.65Z"/><path d="M142.25,46.91L144.95,46.91L143.60,44.55Z"/><path d="M146.55,38.01L149.25,38.01L147.90,35.65Z"/><path d="M146.55,39.41L149.25,39.41L147.90,37.05Z"/><path d="M146.55,40.81L149.25,40.81L147.90,38.45Z"/><path d="M146.55,44.81L149.25,44.81L147.90,42.45Z"/><path d="M146.55,47.01L149.25,47.01L147.90,44.65Z"/><path d="M146.55,49.41L149.25,49.41L147.90,47.05Z"/><path d="M154.95,37.51L157.65,37.51L156.30,35.15Z"/><path d="M154.95,39.91L157.65,39.91L156.30,37.55Z"/><path d="M154.95,43.01L157.65,43.01L156.30,40.65Z"/><path d="M154.95,46.91L157.65,46.91L156.30,44.55Z"/><path d="M154.95,49.31L157.65,49.31L156.30,46.95Z"/><path d="M159.25,38.01L161.95,38.01L160.60,35.65Z"/><path d="M159.25,42.21L161.95,42.21L160.60,39.85Z"/><path d="M159.25,46.91L161.95,46.91L160.60,44.55Z"/><path d="M163.45,39.91L166.15,39.91L164.80,37.55Z"/><path d="M163.45,43.01L166.15,43.01L164.80,40.65Z"/><path d="M163.45,46.01L166.15,46.01L164.80,43.65Z"/><path d="M137.95,42.21L140.65,42.21L139.30,39.85Z"/><path d="M137.95,45.21L140.65,45.21L139.30,42.85Z"/><path d="M137.95,48.21L140.65,48.21L139.30,45.85Z"/><path d="M133.75,43.91L136.45,43.91L135.10,41.55Z"/><path d="M133.75,46.51L136.45,46.51L135.10,44.15Z"/><path d="M133.75,49.01L136.45,49.01L135.10,46.65Z"/><path d="M167.55,44.21L170.25,44.21L168.90,41.85Z"/><path d="M167.55,47.91L170.25,47.91L168.90,45.55Z"/><path d="M150.75,55.91L153.45,55.91L152.10,53.55Z"/><path d="M150.75,70.11L153.45,70.11L152.10,67.75Z"/></g>
<g fill="#4cae45"><path d="M146.55,184.31L149.25,184.31L147.90,181.95Z"/><path d="M146.55,188.31L149.25,188.31L147.90,185.95Z"/><path d="M146.55,192.71L149.25,192.71L147.90,190.35Z"/><path d="M146.55,199.31L149.25,199.31L147.90,196.95Z"/><path d="M146.55,202.21L149.25,202.21L147.90,199.85Z"/><path d="M146.55,205.81L149.25,205.81L147.90,203.45Z"/><path d="M139.65,188.11L142.35,188.11L141.00,185.75Z"/><path d="M139.65,194.11L142.35,194.11L141.00,191.75Z"/><path d="M139.65,196.91L142.35,196.91L141.00,194.55Z"/><path d="M150.15,187.61L152.85,187.61L151.50,185.25Z"/><path d="M150.15,191.21L152.85,191.21L151.50,188.85Z"/><path d="M150.15,194.91L152.85,194.91L151.50,192.55Z"/><path d="M150.15,198.51L152.85,198.51L151.50,196.15Z"/><path d="M150.15,201.51L152.85,201.51L151.50,199.15Z"/><path d="M153.65,187.61L156.35,187.61L155.00,185.25Z"/><path d="M153.65,190.91L156.35,190.91L155.00,188.55Z"/><path d="M153.65,194.51L156.35,194.51L155.00,192.15Z"/><path d="M153.65,197.11L156.35,197.11L155.00,194.75Z"/><path d="M153.65,199.81L156.35,199.81L155.00,197.45Z"/><path d="M143.15,191.21L145.85,191.21L144.50,188.85Z"/><path d="M143.15,194.11L145.85,194.11L144.50,191.75Z"/><path d="M143.15,197.11L145.85,197.11L144.50,194.75Z"/><path d="M143.15,200.61L145.85,200.61L144.50,198.25Z"/><path d="M135.95,194.91L138.65,194.91L137.30,192.55Z"/><path d="M135.95,197.81L138.65,197.81L137.30,195.45Z"/><path d="M135.95,200.61L138.65,200.61L137.30,198.25Z"/><path d="M132.35,195.21L135.05,195.21L133.70,192.85Z"/><path d="M132.35,197.91L135.05,197.91L133.70,195.55Z"/><path d="M157.15,194.11L159.85,194.11L158.50,191.75Z"/><path d="M157.15,196.71L159.85,196.71L158.50,194.35Z"/><path d="M157.15,199.31L159.85,199.31L158.50,196.95Z"/><path d="M160.75,194.11L163.45,194.11L162.10,191.75Z"/><path d="M160.75,197.71L163.45,197.71L162.10,195.35Z"/></g>
<line x1="39.40" y1="52.20" x2="75.20" y2="52.20" stroke="#555" stroke-width="1.4" />
<line x1="86.60" y1="45.60" x2="123.00" y2="45.60" stroke="#111" stroke-width="1.4" />
<line x1="134.00" y1="43.60" x2="170.00" y2="43.60" stroke="#111" stroke-width="1.4" />
<line x1="174.00" y1="39.60" x2="210.00" y2="39.60" stroke="#111" stroke-width="1.4" />
<line x1="52.90" y1="210.10" x2="83.20" y2="210.10" stroke="#444" stroke-width="1.4" />
<line x1="92.90" y1="199.30" x2="123.20" y2="199.30" stroke="#222" stroke-width="1.4" />
<line x1="133.00" y1="194.20" x2="163.00" y2="194.20" stroke="#111" stroke-width="1.4" />
<line x1="166.90" y1="193.60" x2="196.90" y2="193.60" stroke="#111" stroke-width="1.4" />
</svg>
</body></html>
